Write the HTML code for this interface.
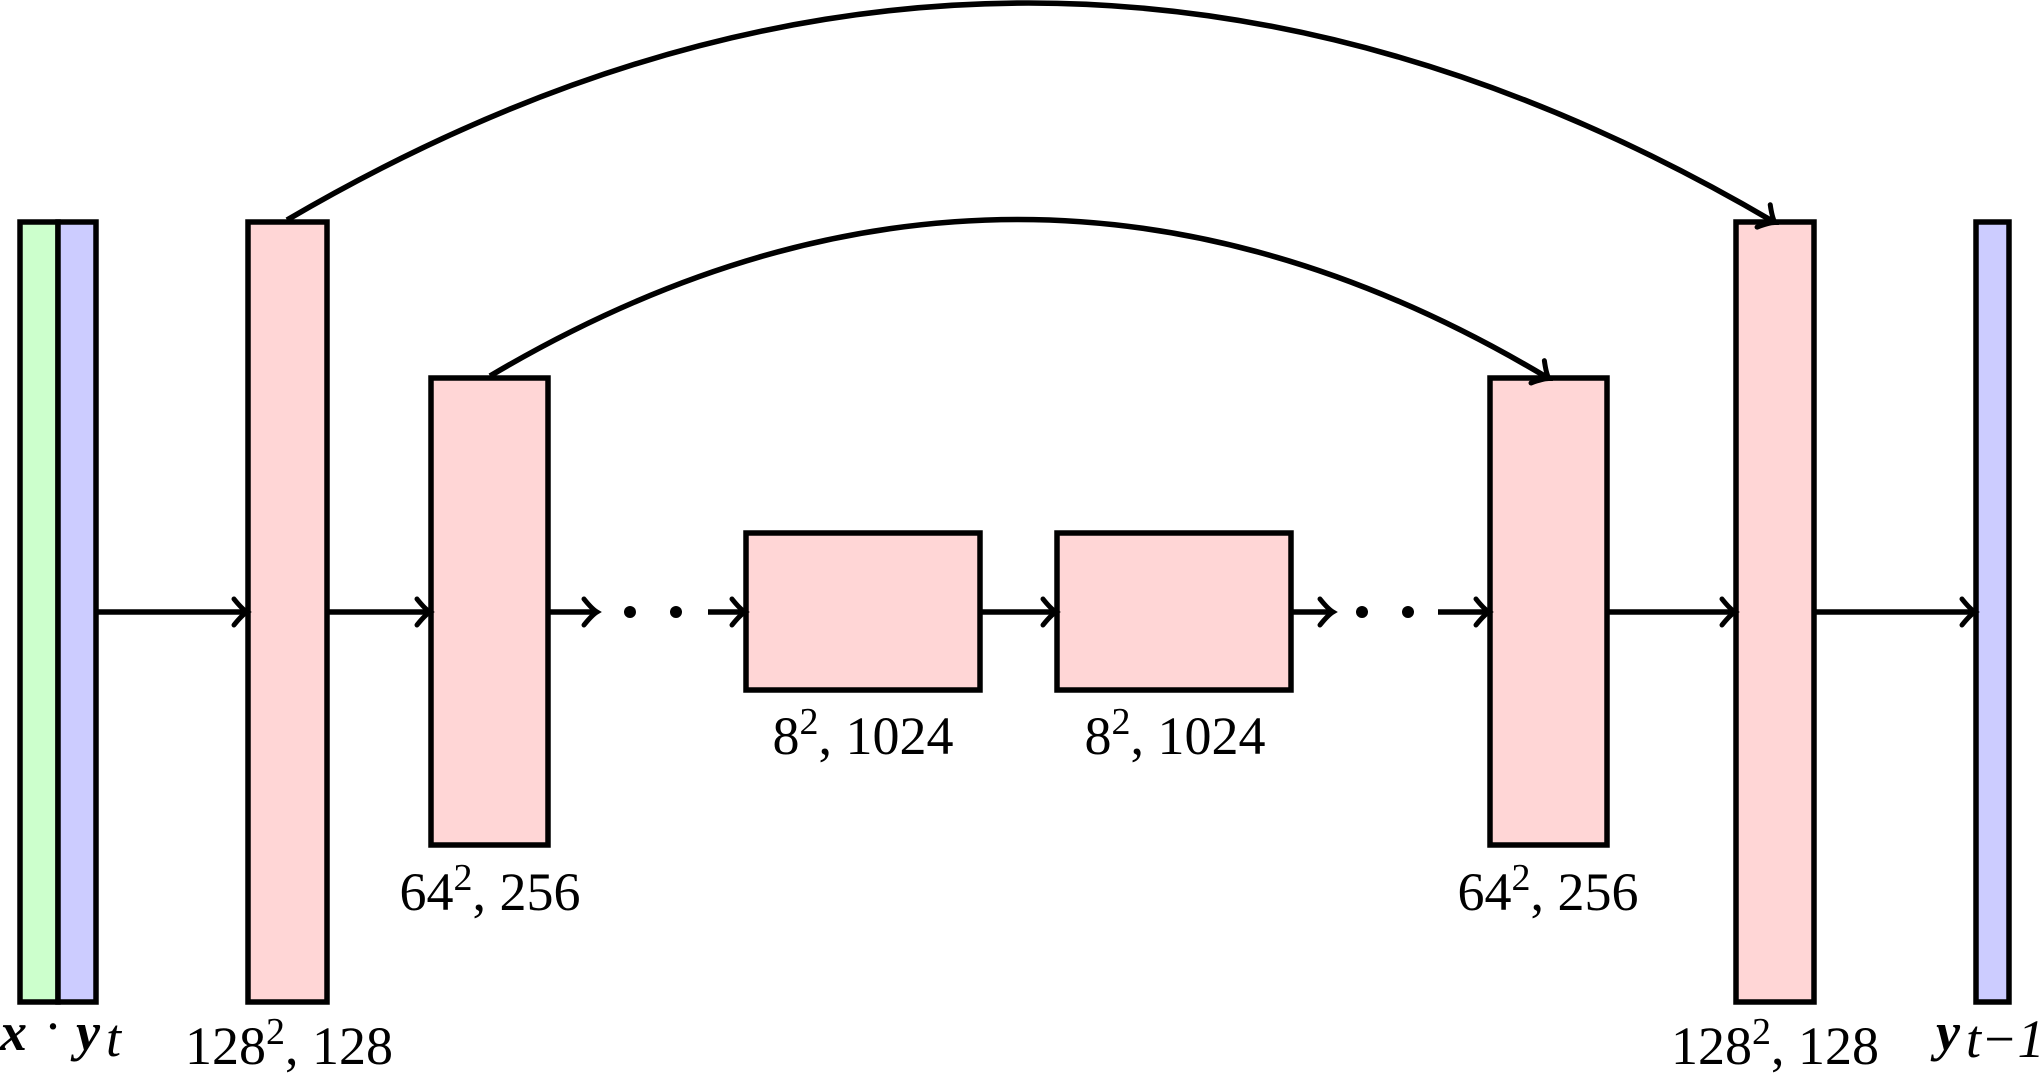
<!DOCTYPE html>
<html><head><meta charset="utf-8"><style>
html,body{margin:0;padding:0;background:#fff;}
svg{display:block;}
text{font-family:"Liberation Serif",serif;font-size:54px;fill:#000;}
</style></head><body>
<svg width="2042" height="1075" viewBox="0 0 2042 1075" xmlns="http://www.w3.org/2000/svg">
<defs>
<marker id="a" markerWidth="10" markerHeight="12" refX="8" refY="6" orient="auto" markerUnits="userSpaceOnUse" overflow="visible">
<path d="M-4,-13 Q4,-3 9,0 Q4,3 -4,13" fill="none" stroke="#000" stroke-width="5" stroke-linecap="round" transform="translate(0,6)"/>
</marker>
</defs>
<g stroke="#000" stroke-width="5.5">
<rect x="20" y="222" width="38" height="780" fill="#ccffcc"/>
<rect x="58" y="222" width="38" height="780" fill="#ccccff"/>
<rect x="248" y="222" width="79" height="780" fill="#ffd6d6"/>
<rect x="431" y="378" width="117" height="467" fill="#ffd6d6"/>
<rect x="746" y="533" width="234" height="157" fill="#ffd6d6"/>
<rect x="1057" y="533" width="234" height="157" fill="#ffd6d6"/>
<rect x="1490" y="378" width="117" height="467" fill="#ffd6d6"/>
<rect x="1736" y="222" width="78" height="780" fill="#ffd6d6"/>
<rect x="1976" y="222" width="33" height="780" fill="#ccccff"/>
</g>
<g stroke="#000" stroke-width="5.5" fill="none" marker-end="url(#a)">
<line x1="96" y1="612" x2="246" y2="612"/>
<line x1="327" y1="612" x2="429" y2="612"/>
<line x1="548" y1="612" x2="596" y2="612"/>
<line x1="708" y1="612" x2="744" y2="612"/>
<line x1="980" y1="612" x2="1055" y2="612"/>
<line x1="1291" y1="612" x2="1332" y2="612"/>
<line x1="1438" y1="612" x2="1488" y2="612"/>
<line x1="1607" y1="612" x2="1734" y2="612"/>
<line x1="1814" y1="612" x2="1974" y2="612"/>
<path d="M287,220 Q1030,-215 1774,222"/>
<path d="M490,376 Q1020,62 1548,378"/>
</g>
<g fill="#000">
<circle cx="630" cy="612" r="6"/><circle cx="676" cy="612" r="6"/>
<circle cx="1362" cy="612" r="6"/><circle cx="1408" cy="612" r="6"/>
</g>
<text x="0" y="1050" font-weight="bold" font-style="italic" font-size="58">x</text>
<text x="44" y="1044" font-size="58">·</text>
<text x="76" y="1050" font-weight="bold" font-style="italic" font-size="58">y</text>
<text x="106" y="1056" font-style="italic" font-size="40">t</text>
<g text-anchor="middle">
<text x="289" y="1064">128<tspan dy="-20" font-size="38">2</tspan><tspan dy="20">, 128</tspan></text>
<text x="490" y="910">64<tspan dy="-20" font-size="38">2</tspan><tspan dy="20">, 256</tspan></text>
<text x="1548" y="910">64<tspan dy="-20" font-size="38">2</tspan><tspan dy="20">, 256</tspan></text>
<text x="863" y="754">8<tspan dy="-20" font-size="38">2</tspan><tspan dy="20">, 1024</tspan></text>
<text x="1175" y="754">8<tspan dy="-20" font-size="38">2</tspan><tspan dy="20">, 1024</tspan></text>
<text x="1775" y="1064">128<tspan dy="-20" font-size="38">2</tspan><tspan dy="20">, 128</tspan></text>
</g>
<text x="1936" y="1050" font-weight="bold" font-style="italic" font-size="58">y</text>
<text x="1966" y="1057" font-style="italic" font-size="34">t−1</text>
</svg>
</body></html>
